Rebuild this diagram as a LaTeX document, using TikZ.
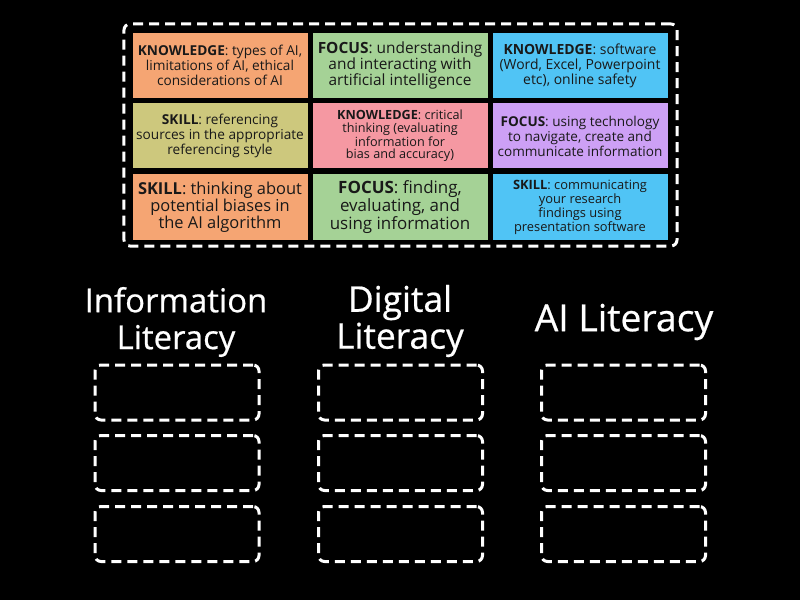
\documentclass[tikz,border=0pt]{standalone}
\usepackage{fontspec}
\setmainfont{Open Sans}
\usepackage{xcolor}
\usetikzlibrary{positioning}

\definecolor{cardorange}{RGB}{245,165,115}
\definecolor{cardolive}{RGB}{205,200,125}
\definecolor{cardgreen}{RGB}{165,210,150}
\definecolor{cardpink}{RGB}{245,152,162}
\definecolor{cardblue}{RGB}{80,196,245}
\definecolor{cardpurple}{RGB}{205,160,245}
\definecolor{cardtext}{RGB}{25,25,25}

\newcommand{\fs}[2]{\fontsize{#1}{#2}\selectfont}

\begin{document}
\begin{tikzpicture}
            [x=1bp,y=-1bp,
             card/.style={draw=none, fill=#1, minimum width=175bp, minimum height=65bp, inner sep=1bp, align=center, text=cardtext},
             slot/.style={draw=white, line width=3bp, dash pattern=on 10bp off 6bp, rounded corners=6bp, minimum width=164bp, minimum height=55bp},
             board/.style={draw=white, line width=3bp, dash pattern=on 10bp off 6bp, rounded corners=6bp, minimum width=553bp, minimum height=222bp},
             heading/.style={text=white, align=center, font=\fs{#1}{37}\addfontfeature{FakeBold=0.6}}]
            \fill[black] (0,0) rectangle (800,600);
            \useasboundingbox (0,0) rectangle (800,600);

            \node[board] (frame) at (400.5,135) {};

            \node[card=cardorange, font=\fs{13.7}{15}] (c11) at (220,65.5) {\textbf{KNOWLEDGE}: types of AI,\\limitations of AI, ethical\\considerations of AI};
            \node[card=cardolive, font=\fs{13.7}{15}] (c21) at (220,136) {\textbf{SKILL}: referencing\\sources in the appropriate\\referencing style};
            \node[card=cardorange, font=\fs{16.5}{17}] (c31) at (220,207) {\textbf{SKILL}: thinking about\\potential biases in\\the AI algorithm};
            \node[card=cardgreen, font=\fs{15.5}{16}] (c12) at (400,65.5) {\textbf{FOCUS}: understanding\\and interacting with\\artificial intelligence};
            \node[card=cardpink, font=\fs{12.7}{12.5}] (c22) at (400,136) {\textbf{KNOWLEDGE}: critical\\thinking (evaluating\\information for\\bias and accuracy)};
            \node[card=cardgreen, font=\fs{17}{16.5}] (c32) at (400,207) {\textbf{FOCUS}: finding,\\evaluating, and\\using information};
            \node[card=cardblue, font=\fs{14}{15}] (c13) at (580,65.5) {\textbf{KNOWLEDGE}: software\\(Word, Excel, Powerpoint\\etc), online safety};
            \node[card=cardpurple, font=\fs{13.6}{15}] (c23) at (580,136) {\textbf{FOCUS}: using technology\\to navigate, create and\\communicate information};
            \node[card=cardblue, font=\fs{12.9}{14}] (c33) at (580,207) {\textbf{SKILL}: communicating\\your research\\findings using\\presentation software};

            \node[heading=33] (info) at (176,322) {Information\\Literacy};
            \node[heading=35.5] (digi) at (400,321) {Digital\\Literacy};
            \node[heading=37.5] (ai) at (624,322) {AI Literacy};

            \foreach \col/\x in {info/177, digi/400.5, ai/623.5}
            \foreach \row/\y in {1/392.5, 2/463, 3/534}
            \node[slot] (\col\row) at (\x,\y) {};
          \end{tikzpicture}
\end{document}
